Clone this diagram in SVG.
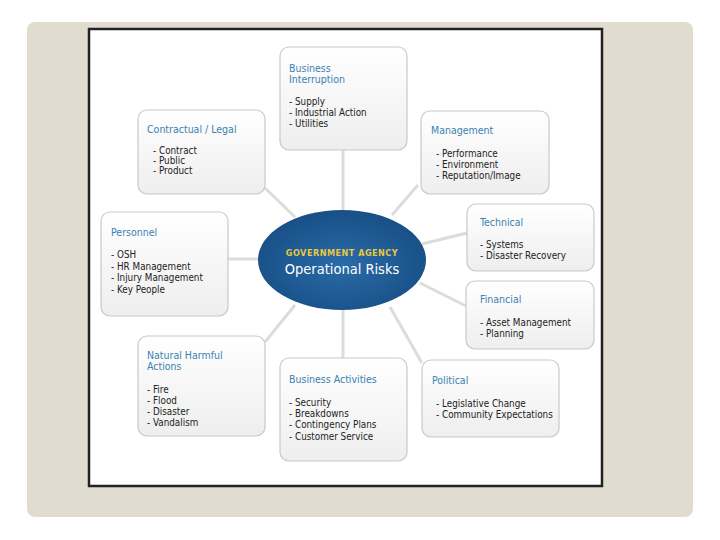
<svg xmlns="http://www.w3.org/2000/svg" width="720" height="540" viewBox="0 0 720 540">
<defs>
<linearGradient id="bx" x1="0" y1="0" x2="0" y2="1"><stop offset="0" stop-color="#ffffff"/><stop offset="1" stop-color="#eeeeee"/></linearGradient>
<radialGradient id="el" cx="0.5" cy="0.55" r="0.55"><stop offset="0" stop-color="#2a6ba8"/><stop offset="1" stop-color="#184f86"/></radialGradient>
<style>
.box{fill:url(#bx);stroke:#c8c8c8;stroke-width:1.2}
.t{font-family:"DejaVu Sans Condensed","DejaVu Sans",sans-serif;font-size:10.5px;fill:#3a82b0}
.i{font-family:"DejaVu Sans Condensed","DejaVu Sans",sans-serif;font-size:9.8px;fill:#222}
.c line{stroke:#dcdcdc;stroke-width:3}
</style>
</defs>
<rect x="27" y="22" width="666" height="495" rx="8" fill="#e0dccf"/>
<rect x="89" y="29" width="513" height="457" fill="#fff" stroke="#222" stroke-width="2.5"/>
<g class="c">
<line x1="343" y1="150" x2="343" y2="210"/>
<line x1="265" y1="188" x2="295" y2="217"/>
<line x1="418" y1="185" x2="392" y2="215"/>
<line x1="467" y1="233" x2="422" y2="244"/>
<line x1="228" y1="259" x2="258" y2="259"/>
<line x1="466" y1="306" x2="420" y2="283"/>
<line x1="265" y1="342" x2="295" y2="305"/>
<line x1="343" y1="310" x2="343" y2="358"/>
<line x1="422" y1="363" x2="390" y2="307"/>
</g>
<g id="center">
<ellipse cx="342" cy="260" rx="84" ry="50" fill="url(#el)"/>
<text x="342" y="256" text-anchor="middle" font-family="DejaVu Sans Condensed,DejaVu Sans,sans-serif" font-size="9" font-weight="bold" fill="#e8c840" letter-spacing="0.5">GOVERNMENT AGENCY</text>
<text x="342" y="274" text-anchor="middle" font-family="DejaVu Sans Condensed,DejaVu Sans,sans-serif" font-size="14.5" fill="#fff">Operational Risks</text>
</g>
<g id="business-interruption"><rect class="box" x="280" y="47" width="127" height="103" rx="9"/>
<text class="t" x="289" y="72">Business</text><text class="t" x="289" y="83">Interruption</text>
<text class="i" x="289" y="105">- Supply</text><text class="i" x="289" y="116">- Industrial Action</text><text class="i" x="289" y="127">- Utilities</text></g>
<g id="contractual"><rect class="box" x="138" y="110" width="127" height="84" rx="9"/>
<text class="t" x="147" y="133">Contractual / Legal</text>
<text class="i" x="153" y="154">- Contract</text><text class="i" x="153" y="164">- Public</text><text class="i" x="153" y="174">- Product</text></g>
<g id="management"><rect class="box" x="421" y="111" width="128" height="83" rx="9"/>
<text class="t" x="431" y="134">Management</text>
<text class="i" x="436" y="157">- Performance</text><text class="i" x="436" y="168">- Environment</text><text class="i" x="436" y="179">- Reputation/Image</text></g>
<g id="technical"><rect class="box" x="467" y="204" width="127" height="67" rx="9"/>
<text class="t" x="480" y="226">Technical</text>
<text class="i" x="480" y="248">- Systems</text><text class="i" x="480" y="259">- Disaster Recovery</text></g>
<g id="personnel"><rect class="box" x="101" y="212" width="127" height="104" rx="9"/>
<text class="t" x="111" y="236">Personnel</text>
<text class="i" x="111" y="258">- OSH</text><text class="i" x="111" y="270">- HR Management</text><text class="i" x="111" y="281">- Injury Management</text><text class="i" x="111" y="293">- Key People</text></g>
<g id="financial"><rect class="box" x="466" y="281" width="128" height="68" rx="9"/>
<text class="t" x="480" y="303">Financial</text>
<text class="i" x="480" y="326">- Asset Management</text><text class="i" x="480" y="337">- Planning</text></g>
<g id="natural"><rect class="box" x="138" y="336" width="127" height="100" rx="9"/>
<text class="t" x="147" y="359">Natural Harmful</text><text class="t" x="147" y="370">Actions</text>
<text class="i" x="147" y="393">- Fire</text><text class="i" x="147" y="404">- Flood</text><text class="i" x="147" y="415">- Disaster</text><text class="i" x="147" y="426">- Vandalism</text></g>
<g id="business-activities"><rect class="box" x="280" y="358" width="127" height="103" rx="9"/>
<text class="t" x="289" y="383">Business Activities</text>
<text class="i" x="289" y="406">- Security</text><text class="i" x="289" y="417">- Breakdowns</text><text class="i" x="289" y="428">- Contingency Plans</text><text class="i" x="289" y="440">- Customer Service</text></g>
<g id="political"><rect class="box" x="422" y="360" width="137" height="77" rx="9"/>
<text class="t" x="432" y="384">Political</text>
<text class="i" x="436" y="407">- Legislative Change</text><text class="i" x="436" y="418">- Community Expectations</text></g>
</svg>
